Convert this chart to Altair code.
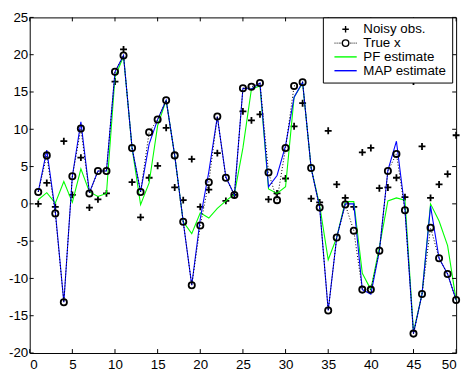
import altair as alt
import pandas as pd

t = list(range(1, 51))
noisy_obs = [0.0, 2.8, -0.4, 8.4, 1.2, 6.2, -0.5, 0.6, 1.4, 16.4,
             20.7, 2.9, -1.8, 3.5, 5.1, 10.2, 2.2, 0.5, 6.0, -0.4,
             1.9, 6.8, 0.4, 1.2, 12.4, 11.2, 12.0, 0.6, 1.4, 3.4,
             10.4, 13.5, 0.7, 0.2, 9.8, 2.6, 0.8, -0.4, 6.9, 7.5,
             2.1, 2.2, 3.5, 0.9, 16.4, 7.7, 0.8, 2.6, 4.0, 9.2]
true_x = [1.6, 6.5, -1.3, -13.2, 3.7, 10.1, 1.4, 4.4, 4.4, 17.7,
          19.9, 7.5, 1.6, 9.6, 11.3, 13.9, 6.5, -2.4, -10.9, -2.9,
          2.9, 11.7, 3.5, 1.2, 15.5, 15.7, 16.2, 4.2, 0.5, 7.5,
          15.8, 16.3, 4.8, -0.5, -14.3, -4.5, -0.1, -3.6, -11.5, -11.5,
          -6.3, 4.4, 6.7, -0.85, -17.4, -12.1, -3.2, -7.3, -9.4, -12.9]
pf_est = [0.55, 1.5, 0.1, 3.0, 0.2, 4.7, 1.6, 1.0, 1.4, 17.0,
          19.8, 7.5, -0.1, 2.8, 10.5, 13.9, 6.5, -2.4, -4.0, -1.2,
          -1.9, -0.6, 0.4, 1.3, 7.5, 15.4, 15.8, 2.0, 1.4, 2.3,
          14.3, 16.2, 4.8, -0.2, -7.5, -4.5, 0.3, 0.3, -9.3, -11.5,
          -5.8, 0.4, 0.8, 0.5, -17.2, -12.1, 0.0, -2.3, -5.6, -12.9]
map_est = [1.6, 7.2, -1.0, -13.2, 3.7, 11.0, 1.5, 4.4, 4.4, 17.7,
           19.9, 7.5, 1.6, 8.0, 11.3, 13.9, 6.5, -2.4, -10.9, -2.0,
           4.3, 11.7, 3.6, 1.2, 15.5, 15.4, 16.2, 2.3, 3.8, 7.8,
           14.3, 16.3, 4.8, -0.5, -14.3, -4.5, 0.0, 0.0, -11.5, -12.1,
           -6.3, 4.5, 8.4, -0.8, -17.4, -12.1, -0.3, -7.3, -9.4, -12.9]
x_ticks = [0, 5, 10, 15, 20, 25, 30, 35, 40, 45, 50]
y_ticks = [-20, -15, -10, -5, 0, 5, 10, 15, 20, 25]
legend_labels = ["Noisy obs.", "True x", "PF estimate", "MAP estimate"]

W, H = 432, 340
FONT = "Liberation Sans"
GREEN = "#00ff00"
BLUE = "#0000ff"

df = pd.DataFrame({"t": t, "obs": noisy_obs, "true": true_x,
                   "pf": pf_est, "map": map_est})
xt = pd.DataFrame({"t": x_ticks})
yt = pd.DataFrame({"obs": y_ticks})
lg = pd.DataFrame({"label": legend_labels})

xs = alt.Scale(domain=[0, 50], nice=False, zero=False)
ys = alt.Scale(domain=[-20, 25], nice=False, zero=False)

x_axis = alt.Axis(values=x_ticks, ticks=False, domain=False, grid=False,
                  title="time t", labelPadding=5, labelExpr="'' + datum.value",
                  labelFont=FONT, labelFontSize=13.5, labelColor="black",
                  titleFont=FONT, titleFontSize=14, titleFontWeight="normal",
                  titleColor="black", titlePadding=6)
y_axis = alt.Axis(values=y_ticks, ticks=False, domain=False, grid=False,
                  title=None, labelPadding=2, labelExpr="'' + datum.value",
                  labelFont=FONT, labelFontSize=13.5, labelColor="black")


def X(field="t"):
    return alt.X(f"{field}:Q", scale=xs, axis=x_axis, title="time t")


def Y(field):
    return alt.Y(f"{field}:Q", scale=ys, axis=y_axis, title=None)


base = alt.Chart(df)

plus_path = "M-1,0L1,0M0,-1L0,1"

obs_layer = base.mark_point(shape=plus_path, filled=False, color="black",
                            strokeWidth=1.8, size=49, opacity=1).encode(
    x=X(), y=Y("obs"))
pf_layer = base.mark_line(color=GREEN, strokeWidth=1.1).encode(x=X(), y=Y("pf"))
map_layer = base.mark_line(color=BLUE, strokeWidth=1.1).encode(x=X(), y=Y("map"))
true_line = base.mark_line(color="black", strokeWidth=1, strokeDash=[1, 2]).encode(
    x=X(), y=Y("true"))
true_pts = base.mark_point(shape="circle", filled=False, color="black",
                           strokeWidth=1.8, size=40, opacity=1).encode(
    x=X(), y=Y("true"))

# inward tick marks (MATLAB style) on all four sides
tick_bottom = alt.Chart(xt).mark_rule(color="black", strokeWidth=1).encode(
    x=X(), y=alt.value(H), y2=alt.value(H - 4))
tick_top = alt.Chart(xt).mark_rule(color="black", strokeWidth=1).encode(
    x=X(), y=alt.value(0), y2=alt.value(4))
tick_left = alt.Chart(yt).mark_rule(color="black", strokeWidth=1).encode(
    y=Y("obs"), x=alt.value(0), x2=alt.value(4))
tick_right = alt.Chart(yt).mark_rule(color="black", strokeWidth=1).encode(
    y=Y("obs"), x=alt.value(W), x2=alt.value(W - 4))

# legend
circ_path = ("M-0.55,0A0.55,0.55 0 1,0 0.55,0A0.55,0.55 0 1,0 -0.55,0"
             "M-1.85,0L-1.72,0M-1.5,0L-1.37,0M-1.15,0L-1.02,0M-0.85,0L-0.75,0"
             "M0.75,0L0.85,0M1.02,0L1.15,0M1.37,0L1.5,0M1.72,0L1.85,0")
line_path = "M-1.88,0L1.88,0"
plus_leg = "M-0.55,0L0.55,0M0,-0.55L0,0.55"

leg = alt.Legend(title=None, orient="none", legendX=W - 135, legendY=0,
                 strokeColor="black", fillColor="white", padding=5,
                 symbolSize=144, symbolStrokeWidth=1.4, symbolOffset=11,
                 labelOffset=11, labelFont=FONT, labelFontSize=13.5,
                 labelColor="black", rowPadding=0, cornerRadius=0)
legend_layer = alt.Chart(lg).mark_point(filled=False, size=0, opacity=1).encode(
    x=alt.value(-500), y=alt.value(-500),
    color=alt.Color("label:N", sort=legend_labels,
                    scale=alt.Scale(domain=legend_labels,
                                    range=["black", "black", GREEN, BLUE]),
                    legend=leg),
    shape=alt.Shape("label:N", sort=legend_labels,
                    scale=alt.Scale(domain=legend_labels,
                                    range=[plus_leg, circ_path, line_path, line_path]),
                    legend=leg),
)

chart = alt.layer(
    obs_layer, pf_layer, map_layer, true_line, true_pts,
    tick_bottom, tick_top, tick_left, tick_right, legend_layer,
).properties(
    width=W, height=H,
    autosize=alt.AutoSizeParams(type="none"),
    padding={"left": 22, "top": 7, "right": 10, "bottom": 40},
    background="white",
).configure_view(stroke="black", strokeWidth=1)

chart.save("out.html", embed_options={"renderer": "svg", "actions": False})
